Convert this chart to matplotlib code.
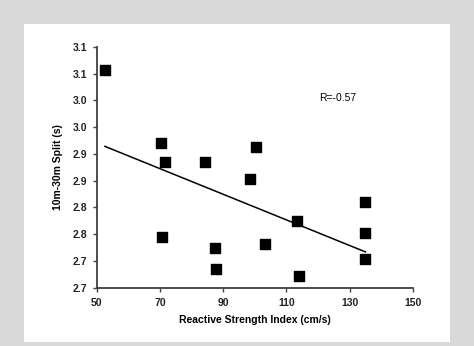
import numpy as np
import matplotlib.pyplot as plt
from matplotlib.patches import Rectangle

# Reactive Strength Index (cm/s) vs 10m-30m split (s)
rsi = [52.6, 70.3, 71.6, 84.2, 100.4, 98.5, 113.2, 87.5, 103.3, 87.8, 114.1, 134.8, 135.0, 135.0, 70.5]
split = [3.106, 2.971, 2.934, 2.935, 2.962, 2.903, 2.824, 2.774, 2.781, 2.736, 2.723, 2.861, 2.803, 2.753, 2.794]

y_ticks = [2.70, 2.75, 2.80, 2.85, 2.90, 2.95, 3.00, 3.05, 3.10, 3.15]
y_labels = ["2.7", "2.7", "2.8", "2.8", "2.9", "2.9", "3.0", "3.0", "3.1", "3.1"]
x_ticks = [50, 70, 90, 110, 130, 150]

plt.rcParams['font.family'] = ['Liberation Sans', 'DejaVu Sans']

fig = plt.figure(figsize=(4.74, 3.46), dpi=100, facecolor='#d9d9d9')
fig.add_artist(Rectangle((0.0506, 0.0116), 0.899, 0.919, transform=fig.transFigure,
                         facecolor='white', edgecolor='none', zorder=-1))

ax = fig.add_axes([0.204, 0.168, 0.667, 0.697])
ax.set_facecolor('white')

ax.scatter(rsi, split, marker='s', s=46, color='black', zorder=3)

# linear trend line
slope, intercept = np.polyfit(rsi, split, 1)
xs = np.array([min(rsi), max(rsi)])
ax.plot(xs, slope * xs + intercept, color='black', lw=1.1)

ax.text(120.4, 3.055, "R=-0.57", fontsize=7.5, va='center')

ax.set_xlim(50, 150)
ax.set_ylim(2.70, 3.15)
ax.set_xticks(x_ticks)
ax.set_yticks(y_ticks)
ax.set_yticklabels(y_labels)
for lbl in ax.get_xticklabels() + ax.get_yticklabels():
    lbl.set_fontweight('bold')
    lbl.set_fontsize(7.5)
    lbl.set_color('#222222')

ax.set_xlabel("Reactive Strength Index (cm/s)", fontsize=7.5, fontweight='bold', labelpad=5)
ax.set_ylabel("10m-30m Split (s)", fontsize=7.5, fontweight='bold', labelpad=7)

for s in ['top', 'right']:
    ax.spines[s].set_visible(False)
for s in ['left', 'bottom']:
    ax.spines[s].set_color('#404040')
    ax.spines[s].set_linewidth(1.3)
ax.tick_params(length=3, width=1, color='#404040', pad=4)

fig.savefig('out.png', dpi=100, facecolor=fig.get_facecolor())
